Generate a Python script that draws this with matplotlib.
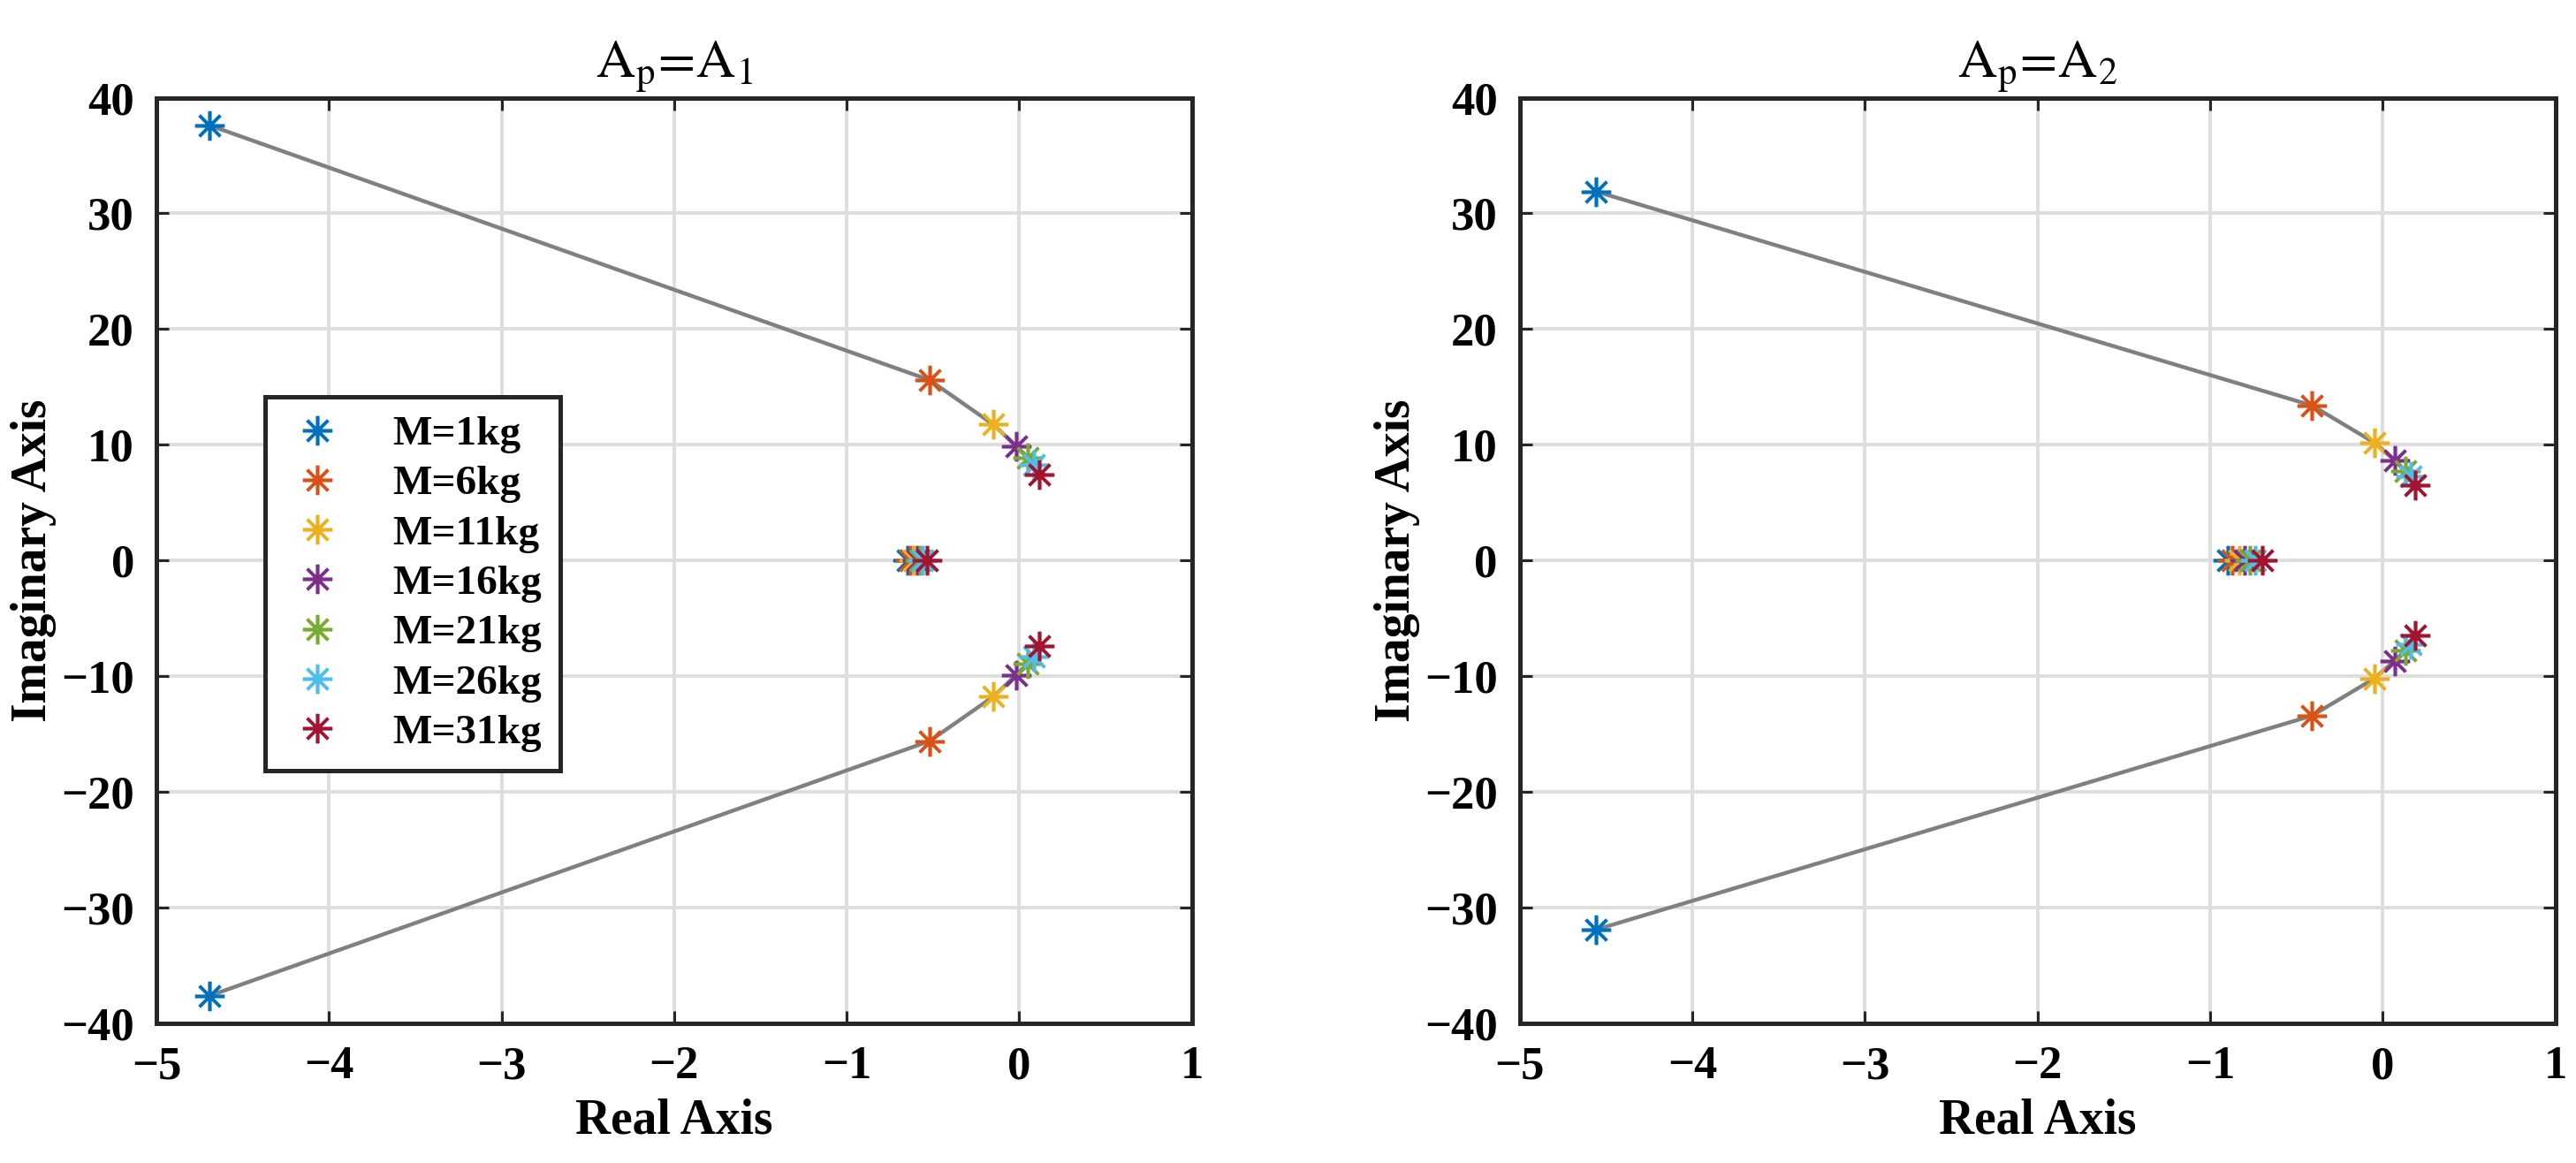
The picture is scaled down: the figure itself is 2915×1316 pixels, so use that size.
import numpy as np
import matplotlib
matplotlib.use('Agg')
import matplotlib.pyplot as plt

plt.rcParams['font.family'] = ['Liberation Serif', 'DejaVu Serif']
plt.rcParams['mathtext.fontset'] = 'stix'

masses = [1, 6, 11, 16, 21, 26, 31]
labels = ['M=%dkg' % m for m in masses]
colors = ['#0072BD', '#D95319', '#EDB120', '#7E2F8E', '#77AC30', '#4DBEEE', '#A2142F']

# A_p = A_1 : complex pole pair (re, +/-im) and real pole
re_cplx_1 = [-4.69, -0.52, -0.15, -0.02, 0.05, 0.085, 0.115]
im_cplx_1 = [37.6, 15.6, 11.75, 9.9, 8.9, 8.3, 7.4]
re_real_1 = [-0.65, -0.63, -0.61, -0.59, -0.575, -0.56, -0.535]

# A_p = A_2
re_cplx_2 = [-4.56, -0.41, -0.05, 0.07, 0.13, 0.16, 0.19]
im_cplx_2 = [31.9, 13.4, 10.2, 8.65, 7.75, 7.25, 6.5]
re_real_2 = [-0.90, -0.87, -0.83, -0.80, -0.77, -0.74, -0.70]

titles = [r'$\mathrm{A_p\!=\!A_1}$', r'$\mathrm{A_p\!=\!A_2}$']

fig = plt.figure(figsize=(14.575, 6.58), dpi=200)
ax1 = fig.add_axes([0.0607, 0.120, 0.402, 0.796])
ax2 = fig.add_axes([0.590, 0.120, 0.402, 0.796])

star = (8, 2, 0)
datasets = [(re_cplx_1, im_cplx_1, re_real_1), (re_cplx_2, im_cplx_2, re_real_2)]

for ax, (rc, ic, rr), title in zip([ax1, ax2], datasets, titles):
    rc = np.array(rc)
    ic = np.array(ic)
    rr = np.array(rr)
    ax.plot(rc, ic, color='#808080', lw=1.6, zorder=2)
    ax.plot(rc, -ic, color='#808080', lw=1.6, zorder=2)
    ax.plot(rr, np.zeros_like(rr), color='#808080', lw=1.6, zorder=2)
    for i in range(len(masses)):
        ax.plot([rc[i], rc[i], rr[i]], [ic[i], -ic[i], 0], ls='none', marker=star,
                ms=12, mew=1.3, color=colors[i], label=labels[i], zorder=3)

    ax.set_xlim(-5, 1)
    ax.set_ylim(-40, 40)
    ax.set_xticks(np.arange(-5, 2, 1))
    ax.set_yticks(np.arange(-40, 50, 10))
    ax.grid(True, color='#dedede', lw=1.4)
    ax.set_axisbelow(True)
    ax.tick_params(direction='in', length=5, width=1.1, top=True, right=True,
                   labelsize=19, color='#262626', pad=9)
    for lab in ax.get_xticklabels() + ax.get_yticklabels():
        lab.set_fontweight('bold')
    for sp in ax.spines.values():
        sp.set_linewidth(1.8)
        sp.set_color('#262626')
    ax.set_xlabel('Real Axis', fontsize=20, fontweight='bold', labelpad=4)
    ax.set_ylabel('Imaginary Axis', fontsize=20, fontweight='bold', labelpad=2)
    ax.set_title(title, fontsize=22, pad=8)

leg = ax1.legend(loc='lower left', bbox_to_anchor=(0.105, 0.273), borderaxespad=0,
                 prop={'weight': 'bold', 'size': 17}, fancybox=False, framealpha=1,
                 edgecolor='#262626', handlelength=1.6, handletextpad=1.0,
                 labelspacing=0.28, borderpad=0.45, numpoints=1)
leg.get_frame().set_linewidth(1.8)

plt.savefig('out.png', dpi=200)
